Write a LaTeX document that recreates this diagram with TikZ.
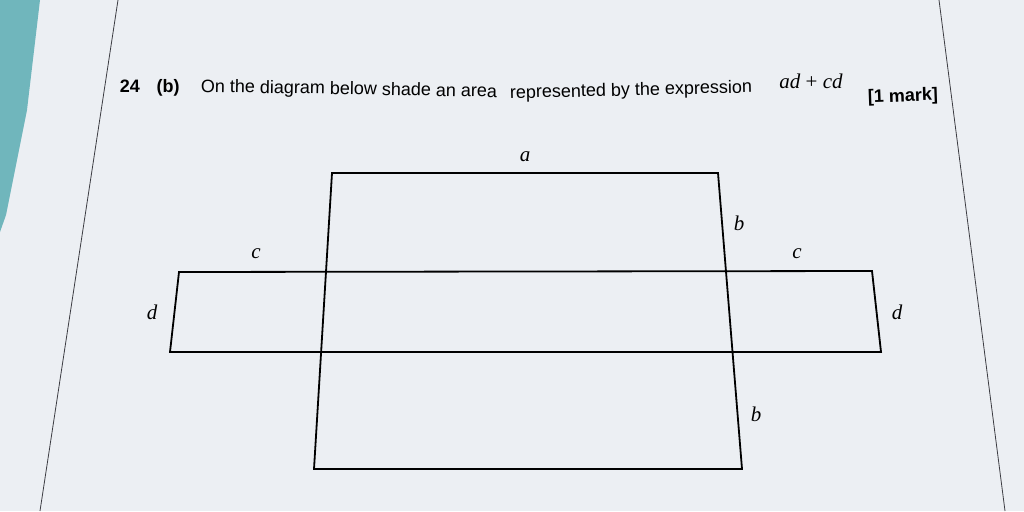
\documentclass[tikz,border=0pt]{standalone}
\usepackage{fontspec}
\setmainfont{Liberation Sans}
\newfontfamily\serif{Liberation Serif}
\usepackage{xcolor}
\definecolor{paper}{RGB}{236,239,243}
\definecolor{edge}{RGB}{112,182,188}
\definecolor{margin}{RGB}{60,60,66}

\begin{document}
\begin{tikzpicture}[x=1pt,y=-1pt,
    lbl/.style={inner sep=0pt,font=\fontsize{21}{23}\selectfont\serif\itshape},
    txt/.style={inner sep=0pt,font=\fontsize{18}{20}\selectfont},
    btxt/.style={inner sep=0pt,font=\fontsize{18}{20}\selectfont\bfseries},
    net/.style={line width=1.8pt,line join=miter}]
            \useasboundingbox (0,0) rectangle (1024,511);
            \fill[paper] (0,0) rectangle (1024,511);
            \fill[edge] (0,0) -- (40,0) -- (27,110) -- (6,215) -- (0,232) -- cycle;

            \coordinate (m1) at (118,0);
            \coordinate (m2) at (40,511);
            \coordinate (m3) at (939,0);
            \coordinate (m4) at (1005,511);
            \draw[margin,line width=0.8pt] (m1) -- (m2)  (m3) -- (m4);

            \node (q1) at (130,86) [btxt] {24};
            \node (q2) at (168,88) [btxt] {(b)};
            \node (q3) at (349,90) [txt,rotate=-1] {On the diagram below shade an area};
            \node (q4) at (631,91) [txt,rotate=1.4] {represented by the expression};
            \node (q5) at (811,81) [lbl] {ad {\upshape+} cd};
            \node (q6) at (903,97) [btxt,rotate=2] {[1 mark]};

            \coordinate (tl) at (332,173);
            \coordinate (tr) at (718,173);
            \coordinate (bl) at (314,469);
            \coordinate (br) at (742,469);
            \coordinate (ml) at (179,272);
            \coordinate (mr) at (872,271);
            \coordinate (mlb) at (170,352);
            \coordinate (mrb) at (881,352);

            \draw[net] (tl) -- (tr) -- (br) -- (bl) -- cycle
            (ml) -- (mr) -- (mrb) -- (mlb) -- cycle;

            \node (la) at (525,157) [lbl] {a};
            \node (lb1) at (739,223) [lbl] {b};
            \node (lc1) at (256,254) [lbl] {c};
            \node (lc2) at (797,254) [lbl] {c};
            \node (ld1) at (152,312) [lbl] {d};
            \node (ld2) at (897,312) [lbl] {d};
            \node (lb2) at (756,414) [lbl] {b};

        \end{tikzpicture}
\end{document}
